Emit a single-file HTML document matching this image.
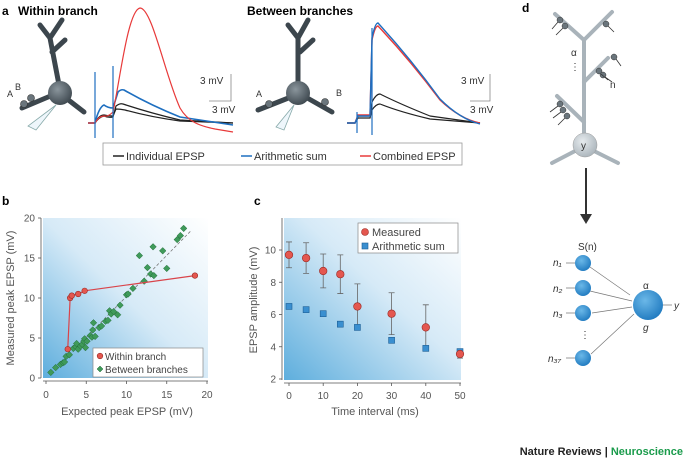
<!DOCTYPE html>
<html><head><meta charset="utf-8">
<style>
html,body{margin:0;padding:0;background:#fff;}
body{width:685px;height:461px;overflow:hidden;font-family:"Liberation Sans",sans-serif;}
svg text{font-family:"Liberation Sans",sans-serif;}
</style></head>
<body>
<svg id="fig" width="685" height="461" viewBox="0 0 685 461" xmlns="http://www.w3.org/2000/svg">
<defs>
<linearGradient id="gb" x1="0" y1="1" x2="1" y2="0">
<stop offset="0" stop-color="#5eaedd"/><stop offset="0.5" stop-color="#d6eaf7"/><stop offset="1" stop-color="#ffffff"/>
</linearGradient>
<linearGradient id="gc" x1="0" y1="1" x2="1" y2="0">
<stop offset="0" stop-color="#5eaedd"/><stop offset="0.55" stop-color="#d6eaf7"/><stop offset="1" stop-color="#ffffff"/>
</linearGradient>
<radialGradient id="soma" cx="0.4" cy="0.35" r="0.7"><stop offset="0" stop-color="#8a959c"/><stop offset="1" stop-color="#3c464d"/></radialGradient>
<radialGradient id="somaL" cx="0.4" cy="0.35" r="0.7"><stop offset="0" stop-color="#e6ebee"/><stop offset="1" stop-color="#a9b3ba"/></radialGradient>
<radialGradient id="bl" cx="0.4" cy="0.35" r="0.7"><stop offset="0" stop-color="#6bb8e8"/><stop offset="1" stop-color="#1f79bf"/></radialGradient>
</defs>

<g>
<text x="2" y="15" font-size="12" font-weight="bold">a</text>
<text x="18" y="15" font-size="12" font-weight="bold">Within branch</text>
<text x="247" y="15" font-size="12" font-weight="bold">Between branches</text>
<g stroke="#3c464d" stroke-width="5" stroke-linecap="round" fill="none">
<path d="M60 90 L50 38 L40 25 M50 38 L62 20 M52 52 L65 40 M60 92 L22 108 M62 95 L84 112"/>
</g>
<circle cx="60" cy="93" r="12" fill="url(#soma)"/>
<circle cx="24" cy="104" r="3.5" fill="#6a757c" stroke="#333" stroke-width="0.6"/><circle cx="31" cy="98" r="3.5" fill="#6a757c" stroke="#333" stroke-width="0.6"/>
<text x="7" y="97" font-size="9" fill="#333">A</text><text x="15" y="90" font-size="9" fill="#333">B</text>
<path d="M56 105 L36 130 L28 126 Z" fill="#eef6fb" stroke="#8aa" stroke-width="0.8"/>
<g stroke="#3c464d" stroke-width="5" stroke-linecap="round" fill="none">
<path d="M298 90 L298 38 L288 25 M298 38 L308 20 M300 52 L313 40 M296 95 L258 110 M302 95 L332 112"/>
</g>
<circle cx="298" cy="93" r="12" fill="url(#soma)"/>
<circle cx="269" cy="104" r="3.5" fill="#6a757c" stroke="#333" stroke-width="0.6"/><circle cx="325" cy="102" r="3.5" fill="#6a757c" stroke="#333" stroke-width="0.6"/>
<text x="256" y="97" font-size="9" fill="#333">A</text><text x="336" y="96" font-size="9" fill="#333">B</text>
<path d="M294 105 L284 130 L276 127 Z" fill="#eef6fb" stroke="#8aa" stroke-width="0.8"/>
<g fill="none" stroke-width="1.2">
<path d="M88 123 L95 123 Q99 115 104 115 Q108 116 113 116 L116 109 Q120 109 125 110 Q150 117 180 121 L233 123" stroke="#222"/>
<path d="M88 123 L95 123 Q99 117 104 116 Q108 118 113 117 L116 106 Q120 103 123 104 Q150 113 180 120 L233 123" stroke="#222"/>
<path d="M88 123 L95 123 Q99 107 104 105 Q108 108 113 108 L118 92 Q121 89 124 90 Q150 105 180 117 L233 125" stroke="#1e6fc0" stroke-width="1.6"/>
<path d="M88 123 L95 123 Q99 116 104 116 Q108 117 113 112 C120 80 128 10 140 8 C152 8 165 75 180 108 C188 122 200 126 215 129 L233 132" stroke="#e83a3a"/>
<path d="M95 72 L95 138 M113 66 L113 138" stroke="#1e6fc0"/>
</g>
<path d="M231 74 L231 101 L209 101" fill="none" stroke="#888" stroke-width="0.8"/>
<text x="200" y="84" font-size="10" fill="#333">3 mV</text>
<text x="212" y="113" font-size="10" fill="#333">3 mV</text>
<g fill="none" stroke-width="1.2">
<path d="M347 123 L355 123 L358 118 L370 118 L372 110 Q376 104 380 104 Q400 112 430 119 L480 123" stroke="#222"/>
<path d="M347 123 L355 123 L358 116 L370 116 L372 102 Q376 94 380 94 Q400 104 430 116 L480 123" stroke="#222"/>
<path d="M347 123 L355 123 L358 115 L370 115 L372 40 Q375 26 378 26 Q410 60 440 100 Q460 119 480 123" stroke="#e83a3a" stroke-width="1.4"/>
<path d="M347 123 L355 123 L358 116 L370 116 L372 38 Q375 23 378 23 Q410 58 440 99 Q460 119 480 124" stroke="#1e6fc0" stroke-width="1.4"/>
<path d="M357 112 L357 133 M372 28 L372 135" stroke="#1e6fc0"/>
</g>
<path d="M490 74 L490 101 L470 101" fill="none" stroke="#888" stroke-width="0.8"/>
<text x="461" y="84" font-size="10" fill="#333">3 mV</text>
<text x="470" y="113" font-size="10" fill="#333">3 mV</text>
<g>
<rect x="103" y="143" width="359" height="22" fill="#fff" stroke="#999" stroke-width="0.8"/>
<line x1="113" y1="156" x2="124" y2="156" stroke="#222" stroke-width="1.5"/><text x="126" y="160" font-size="11" fill="#333">Individual EPSP</text>
<line x1="241" y1="156" x2="252" y2="156" stroke="#1e6fc0" stroke-width="1.5"/><text x="254" y="160" font-size="11" fill="#333">Arithmetic sum</text>
<line x1="360" y1="156" x2="371" y2="156" stroke="#e83a3a" stroke-width="1.5"/><text x="373" y="160" font-size="11" fill="#333">Combined EPSP</text>
</g>
</g>

<g id="pb">
<text x="2" y="205" font-size="12" font-weight="bold">b</text>
<rect x="43" y="218" width="165" height="160" fill="url(#gb)"/>
</g>

<g id="pc">
<text x="254" y="205" font-size="12" font-weight="bold">c</text>
<rect x="284" y="218" width="177" height="162" fill="url(#gc)"/>
</g>

<g>
<text x="522" y="12" font-size="12" font-weight="bold">d</text>
<g stroke="#a9b3ba" stroke-width="4" stroke-linecap="round" fill="none">
<path d="M584 142 L584 40 L555 14 M584 40 L612 12 M584 82 L608 58 M584 122 L557 96 M577 150 L552 163 M592 150 L618 163"/>
</g>
<g fill="#6a757c" stroke="#333" stroke-width="0.5">
<circle cx="560" cy="20" r="3"/><circle cx="565" cy="26" r="3"/><circle cx="606" cy="24" r="3"/>
<circle cx="614" cy="57" r="3"/><circle cx="599" cy="71" r="3"/><circle cx="603" cy="75" r="3"/>
<circle cx="560" cy="104" r="3"/><circle cx="563" cy="110" r="3"/><circle cx="567" cy="116" r="3"/>
</g>
<g stroke="#333" stroke-width="0.8"><path d="M558 22 L552 29 M563 28 L556 35 M608 26 L614 32 M616 59 L621 66 M601 74 L608 80 M605 77 L612 82 M558 106 L550 112 M561 112 L553 118 M565 118 L558 125"/></g>
<text x="571" y="56" font-size="10" fill="#333">α</text><text x="610" y="88" font-size="10" fill="#333">n</text>
<text x="570" y="70" font-size="10" fill="#333">⋮</text>
<circle cx="585" cy="145" r="12" fill="url(#somaL)" stroke="#999" stroke-width="0.5"/>
<text x="581" y="149" font-size="10" fill="#333">y</text>
<line x1="586" y1="168" x2="586" y2="214" stroke="#333" stroke-width="2"/>
<path d="M580 214 L592 214 L586 224 Z" fill="#333"/>
<text x="578" y="250" font-size="10" fill="#333">S(n)</text>
<g stroke="#777" stroke-width="0.7">
<path d="M566 263 L575 263 M566 288 L575 288 M566 313 L575 313 M566 358 L575 358 M590 267 L630 295 M590 291 L632 301 M592 313 L632 307 M591 354 L634 314 M663 305 L672 305"/>
</g>
<g>
<circle cx="583" cy="263" r="8" fill="url(#bl)"/><circle cx="583" cy="288" r="8" fill="url(#bl)"/>
<circle cx="583" cy="313" r="8" fill="url(#bl)"/><circle cx="583" cy="358" r="8" fill="url(#bl)"/>
</g>
<circle cx="648" cy="305" r="15" fill="url(#bl)"/>
<g font-size="10" fill="#333" font-style="italic">
<text x="553" y="266">n₁</text><text x="553" y="292">n₂</text><text x="553" y="317">n₃</text><text x="548" y="362">n₃₇</text>
<text x="674" y="309">y</text><text x="643" y="331">g</text>
</g>
<text x="643" y="289" font-size="10" fill="#333">α</text>
<text x="580" y="338" font-size="10" fill="#333">⋮</text>
<text x="683" y="455" font-size="11" font-weight="bold" text-anchor="end"><tspan fill="#222">Nature Reviews | </tspan><tspan fill="#1a9b4b">Neuroscience</tspan></text>
</g>
</svg>
<script>
const bWithinX = [2.7, 3.0, 3.2, 4.0, 4.8, 18.5];
const bWithinY = [3.6, 10.0, 10.3, 10.5, 10.9, 12.8];
const bBetweenX = [0.6,1.2,1.8,2.1,2.3,2.5,2.9,3.4,3.7,3.8,4.0,4.3,4.5,4.7,4.8,4.9,5.1,5.5,5.7,5.8,5.9,6.1,6.6,6.9,7.4,7.7,7.9,8.1,8.4,8.9,9.2,10.0,10.2,10.8,11.6,12.2,12.6,13.0,13.3,13.4,14.5,15.0,16.3,16.7,17.1];
const bBetweenY = [0.7,1.3,1.7,1.9,2.0,2.7,2.9,3.7,3.9,4.3,3.6,4.0,4.2,4.6,4.9,3.8,4.6,5.3,5.1,6.0,6.9,5.2,6.3,6.5,7.1,7.2,8.4,8.0,8.3,7.9,9.1,10.4,10.5,11.2,15.3,12.1,13.8,13.0,16.4,12.8,15.9,13.7,17.3,17.8,18.7];
const bTicks = [0, 5, 10, 15, 20];
const cTimes = [0, 5, 10, 15, 20, 30, 40, 50];
const cMeasured = [9.7, 9.5, 8.7, 8.5, 6.5, 6.05, 5.2, 3.55];
const cError = [0.8, 0.95, 1.05, 1.2, 1.4, 1.3, 1.4, 0.25];
const cArith = [6.5, 6.3, 6.05, 5.4, 5.2, 4.4, 3.9, 3.7];
const cXTicks = [0, 10, 20, 30, 40, 50];
const cYTicks = [2, 4, 6, 8, 10];

const NS = 'http://www.w3.org/2000/svg';
function mk(parent, tag, attrs, text) {
  const e = document.createElementNS(NS, tag);
  for (const k in attrs) e.setAttribute(k, attrs[k]);
  if (text !== undefined) e.textContent = text;
  parent.appendChild(e);
  return e;
}
const grey = '#555';

const pb = document.getElementById('pb');
const bx = v => 46 + v * (207 - 46) / 20;
const by = v => 378 - v * (378 - 218) / 20;
let el = mk(pb, 'line', {x1: 41, y1: 218, x2: 41, y2: 378, stroke: grey, 'stroke-width': 0.8});


el = mk(pb, 'line', {x1: 43, y1: 381, x2: 208, y2: 381, stroke: grey, 'stroke-width': 0.8});


bTicks.forEach(t => {
  mk(pb, 'line', {x1: 38, y1: by(t), x2: 41, y2: by(t), stroke: grey, 'stroke-width': 0.8});
  el = mk(pb, 'text', {x: 35, y: by(t) + 3.5, 'font-size': 10, fill: '#555', 'text-anchor': 'end'}, t);
  
  
  mk(pb, 'line', {x1: bx(t), y1: 381, x2: bx(t), y2: 384, stroke: grey, 'stroke-width': 0.8});
  el = mk(pb, 'text', {x: bx(t), y: 398, 'font-size': 10, fill: '#555', 'text-anchor': 'middle'}, t);
  
  
});
el = mk(pb, 'text', {x: 127, y: 415, 'font-size': 11, fill: '#555', 'text-anchor': 'middle'}, 'Expected peak EPSP (mV)');


el = mk(pb, 'text', {x: 0, y: 0, 'font-size': 11, fill: '#555', 'text-anchor': 'middle', transform: 'translate(14,298) rotate(-90)'}, 'Measured peak EPSP (mV)');


el = mk(pb, 'line', {x1: bx(2), y1: by(2), x2: bx(18), y2: by(18.4), stroke: '#777', 'stroke-width': 0.8, 'stroke-dasharray': '3,2'});


bBetweenX.forEach((x, i) => {
  const cx = bx(x), cy = by(bBetweenY[i]);
  el = mk(pb, 'path', {d: `M${cx} ${cy-3.3} L${cx+3.3} ${cy} L${cx} ${cy+3.3} L${cx-3.3} ${cy} Z`, fill: '#3f9a5a', stroke: '#1f6a35', 'stroke-width': 0.5});
  
  
});
el = mk(pb, 'polyline', {points: bWithinX.map((x, i) => bx(x) + ',' + by(bWithinY[i])).join(' '), fill: 'none', stroke: '#d9444a', 'stroke-width': 1.2});


bWithinX.forEach((x, i) => {
  el = mk(pb, 'circle', {cx: bx(x), cy: by(bWithinY[i]), r: 2.8, fill: '#e4574f', stroke: '#9a2a25', 'stroke-width': 0.6});
  
  
});
el = mk(pb, 'rect', {x: 93, y: 348, width: 110, height: 29, fill: '#fff', stroke: '#888', 'stroke-width': 0.7});


mk(pb, 'circle', {cx: 100, cy: 356, r: 2.8, fill: '#e4574f', stroke: '#9a2a25', 'stroke-width': 0.6});
mk(pb, 'text', {x: 105, y: 360, 'font-size': 10, fill: '#444'}, 'Within branch');
mk(pb, 'path', {d: 'M100 366 L103 369 L100 372 L97 369 Z', fill: '#3f9a5a', stroke: '#1f6a35', 'stroke-width': 0.5});
mk(pb, 'text', {x: 105, y: 373, 'font-size': 10, fill: '#444'}, 'Between branches');

const pc = document.getElementById('pc');
const cx_ = v => 289 + v * (460 - 289) / 50;
const cy_ = v => 379 - (v - 2) * (379 - 250) / 8;
el = mk(pc, 'line', {x1: 282, y1: 218, x2: 282, y2: 380, stroke: grey, 'stroke-width': 0.8});


el = mk(pc, 'line', {x1: 284, y1: 383, x2: 461, y2: 383, stroke: grey, 'stroke-width': 0.8});


cYTicks.forEach(t => {
  mk(pc, 'line', {x1: 279, y1: cy_(t), x2: 282, y2: cy_(t), stroke: grey, 'stroke-width': 0.8});
  el = mk(pc, 'text', {x: 276, y: cy_(t) + 3.5, 'font-size': 10, fill: '#555', 'text-anchor': 'end'}, t);
  
  
});
cXTicks.forEach(t => {
  mk(pc, 'line', {x1: cx_(t), y1: 383, x2: cx_(t), y2: 386, stroke: grey, 'stroke-width': 0.8});
  el = mk(pc, 'text', {x: cx_(t), y: 399, 'font-size': 10, fill: '#555', 'text-anchor': 'middle'}, t);
  
  
});
el = mk(pc, 'text', {x: 375, y: 415, 'font-size': 11, fill: '#555', 'text-anchor': 'middle'}, 'Time interval (ms)');


el = mk(pc, 'text', {x: 0, y: 0, 'font-size': 11, fill: '#555', 'text-anchor': 'middle', transform: 'translate(257,300) rotate(-90)'}, 'EPSP amplitude (mV)');


cTimes.forEach((t, i) => {
  const x = cx_(t), m = cMeasured[i], e = cError[i];
  el = mk(pc, 'path', {d: `M${x} ${cy_(m+e)} L${x} ${cy_(m-e)} M${x-3} ${cy_(m+e)} L${x+3} ${cy_(m+e)} M${x-3} ${cy_(m-e)} L${x+3} ${cy_(m-e)}`, stroke: '#666', 'stroke-width': 0.8, fill: 'none'});
  
  
  el = mk(pc, 'rect', {x: x - 3, y: cy_(cArith[i]) - 3, width: 6, height: 6, fill: '#3a8fd0', stroke: '#1d5f96', 'stroke-width': 0.6});
  
  
  el = mk(pc, 'circle', {cx: x, cy: cy_(m), r: 3.8, fill: '#e4574f', stroke: '#9a2a25', 'stroke-width': 0.6});
  
  
});
el = mk(pc, 'rect', {x: 358, y: 223, width: 100, height: 30, fill: '#fff', stroke: '#888', 'stroke-width': 0.7});


mk(pc, 'circle', {cx: 365, cy: 232, r: 3.5, fill: '#e4574f', stroke: '#9a2a25', 'stroke-width': 0.6});
mk(pc, 'text', {x: 372, y: 236, 'font-size': 11, fill: '#444'}, 'Measured');
mk(pc, 'rect', {x: 362, y: 243, width: 6, height: 6, fill: '#3a8fd0', stroke: '#1d5f96', 'stroke-width': 0.6});
mk(pc, 'text', {x: 372, y: 250, 'font-size': 11, fill: '#444'}, 'Arithmetic sum');
</script>
</body></html>
